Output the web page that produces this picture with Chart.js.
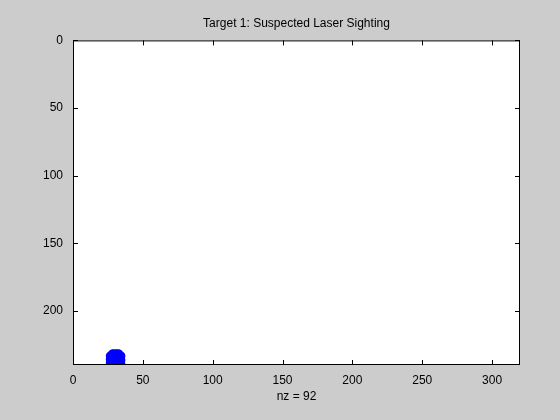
<!DOCTYPE html>
<html>
<head>
<meta charset="utf-8">
<script src="https://cdn.jsdelivr.net/npm/chart.js@4"></script>
<style>
  body { margin: 0; background: #cccccc; }
  canvas { display: block; }
</style>
</head>
<body>
<canvas id="spy" width="560" height="420"></canvas>
<script>
// nonzero pattern: row index -> list of column indices
const rows = [231, 232, 233, 234, 235, 236, 237, 238, 239, 240];
const cols = [
  [28, 29, 30, 31, 32, 33],
  [27, 28, 29, 30, 31, 32, 33, 34],
  [26, 27, 28, 29, 30, 31, 32, 33, 34, 35],
  [26, 27, 28, 29, 30, 31, 32, 33, 34, 35],
  [26, 27, 28, 29, 30, 31, 32, 33, 34],
  [26, 27, 28, 29, 30, 31, 32, 33, 34, 35],
  [26, 27, 28, 29, 30, 31, 32, 33, 34, 35],
  [26, 27, 28, 29, 30, 31, 32, 33, 34],
  [26, 27, 28, 29, 30, 31, 32, 33, 34, 35],
  [26, 27, 28, 29, 30, 31, 32, 33, 34, 35]
];
const xTicks = [0, 50, 100, 150, 200, 250, 300];
const yTicks = [0, 50, 100, 150, 200];

const points = [];
rows.forEach((r, i) => cols[i].forEach(c => points.push({ x: c, y: r })));

const font = { family: "Liberation Sans, Arial, sans-serif", size: 12, weight: "normal" };

// white axes box, border and inward ticks like MATLAB
const axesBox = {
  id: "axesBox",
  beforeDraw(chart) {
    const { ctx, chartArea: a } = chart;
    ctx.save();
    ctx.fillStyle = "#ffffff";
    ctx.fillRect(a.left, a.top, a.right - a.left, a.bottom - a.top);
    ctx.restore();
  },
  afterDraw(chart) {
    const { ctx, chartArea: a, scales } = chart;
    ctx.save();
    ctx.strokeStyle = "#000000";
    ctx.lineWidth = 1;
    ctx.strokeRect(a.left + 0.5, a.top + 0.5, a.right - a.left - 1, a.bottom - a.top - 1);
    ctx.beginPath();
    xTicks.forEach(v => {
      const px = Math.round(scales.x.getPixelForValue(v)) + 0.5;
      ctx.moveTo(px, a.bottom); ctx.lineTo(px, a.bottom - 5);
      ctx.moveTo(px, a.top); ctx.lineTo(px, a.top + 5);
    });
    yTicks.forEach(v => {
      const py = Math.round(scales.y.getPixelForValue(v)) + 0.5;
      ctx.moveTo(a.left, py); ctx.lineTo(a.left + 5, py);
      ctx.moveTo(a.right, py); ctx.lineTo(a.right - 5, py);
    });
    ctx.stroke();
    ctx.restore();
  }
};

new Chart(document.getElementById("spy"), {
  type: "scatter",
  data: {
    datasets: [{
      data: points,
      backgroundColor: "#0000ff",
      borderColor: "#0000ff",
      pointRadius: 3,
      pointHoverRadius: 3
    }]
  },
  options: {
    responsive: false,
    animation: false,
    layout: { padding: { right: 40, left: 0, top: 0, bottom: 0 } },
    plugins: {
      legend: { display: false },
      tooltip: { enabled: false },
      title: {
        display: true,
        fullSize: false,
        text: "Target 1: Suspected Laser Sighting",
        color: "#000000",
        font: font,
        padding: { top: 16, bottom: 10 }
      }
    },
    scales: {
      x: {
        type: "linear",
        min: 0,
        max: 320,
        afterBuildTicks: s => { s.ticks = xTicks.map(v => ({ value: v })); },
        afterFit: s => { s.height = 55; },
        grid: { display: false },
        border: { display: false },
        ticks: { color: "#000000", font: font, padding: 0, maxRotation: 0 },
        title: { display: true, text: "nz = 92", color: "#000000", font: font, padding: { top: 0, bottom: 16 } }
      },
      y: {
        type: "linear",
        min: 0,
        max: 240,
        reverse: true,
        afterBuildTicks: s => { s.ticks = yTicks.map(v => ({ value: v })); },
        afterFit: s => { s.width = 73; },
        grid: { display: false },
        border: { display: false },
        ticks: { color: "#000000", font: font, padding: 2 }
      }
    }
  },
  plugins: [axesBox]
});
</script>
</body>
</html>
